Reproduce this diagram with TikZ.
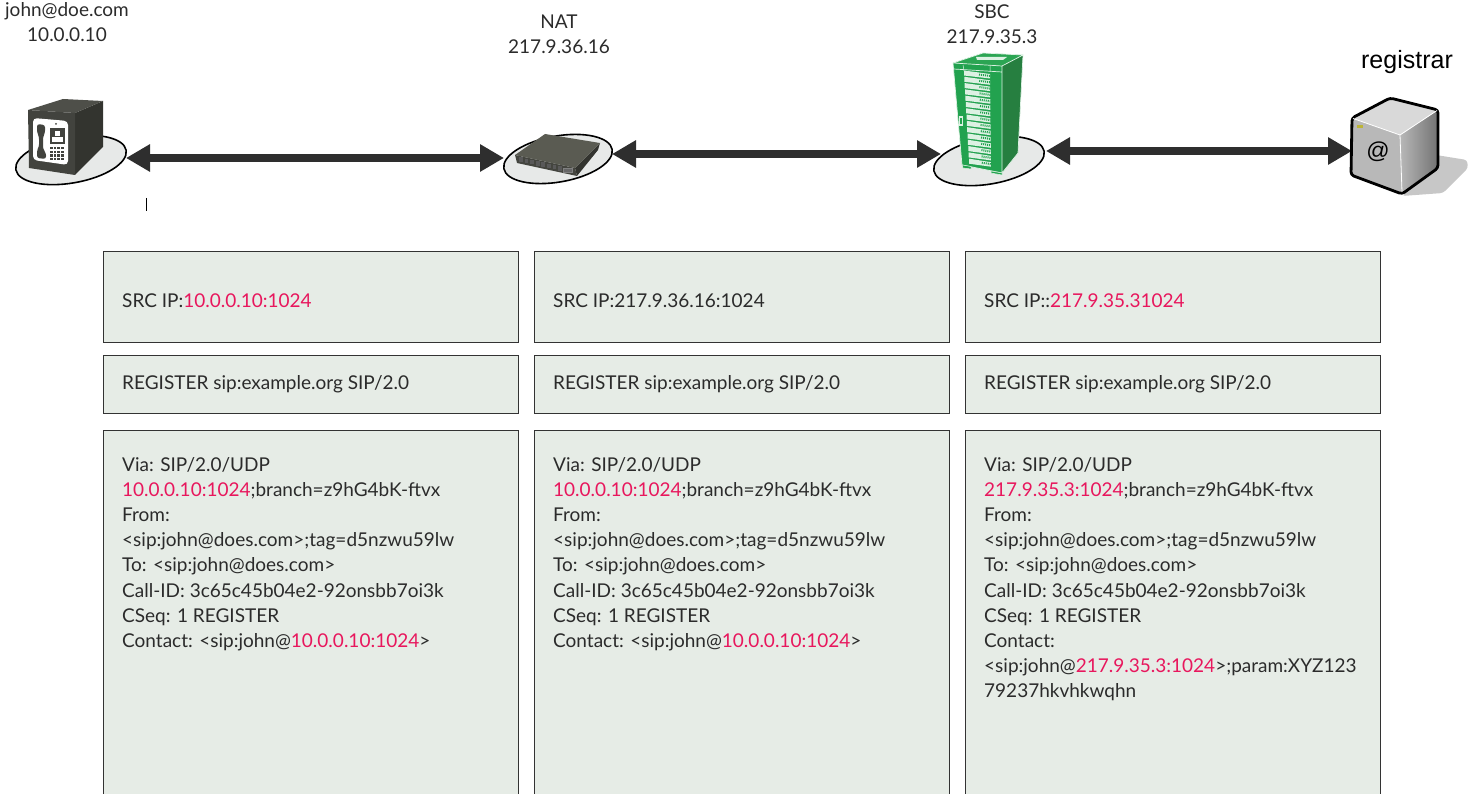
\documentclass[tikz,border=0pt]{standalone}
\usepackage{fontspec}
\setmainfont{Lato}
\newfontfamily\arialf{Liberation Sans}
\usetikzlibrary{arrows.meta,calc,shapes.geometric}
\definecolor{hl}{HTML}{E8175D}
\definecolor{boxfill}{HTML}{E6ECE6}
\definecolor{boxline}{HTML}{333333}
\definecolor{txt}{HTML}{2B2B2B}
\definecolor{arrowc}{HTML}{2E2E2E}
\definecolor{padfill}{HTML}{E7E9E8}
\definecolor{darkf}{HTML}{42433E}
\definecolor{darkt}{HTML}{4E4F49}
\definecolor{darkr}{HTML}{33342F}
\definecolor{natt}{HTML}{5A5B52}
\definecolor{natf}{HTML}{44453F}
\definecolor{gfront}{HTML}{22A24F}
\definecolor{gright}{HTML}{267F40}
\definecolor{gtop}{HTML}{2BA553}
\definecolor{gline}{HTML}{DDF1E3}
\newcommand\hl[1]{\textcolor{hl}{#1}}
\tikzset{
  panel/.style={draw=boxline,line width=0.9pt,fill=boxfill,minimum width=414.5pt,inner sep=0pt,anchor=north west},
  paneltext/.style={anchor=west,inner sep=0pt,text=txt,font=\fontsize{19}{25.2}\selectfont},
  bodytext/.style={anchor=north west,inner sep=0pt,text=txt,align=left,font=\fontsize{19}{25.2}\selectfont},
  headtext/.style={inner sep=0pt,text=txt,align=center,font=\fontsize{19}{25}\selectfont},
  pad/.style={draw=black,line width=1.6pt,fill=padfill,ellipse,inner sep=0pt},
  link/.style={draw=arrowc,line width=7.5pt,{Triangle[width=26pt,length=24pt]}-{Triangle[width=26pt,length=24pt]},arrowc},
}
\begin{document}
\begin{tikzpicture}[x=1pt,y=-1pt]
\useasboundingbox (0,0) rectangle (1468,794);
% pads
\node[pad,minimum width=112pt,minimum height=46pt,rotate=10] (padA) at (71,160) {};
\node[pad,minimum width=110pt,minimum height=46pt,rotate=10] (padB) at (558,159) {};
\node[pad,minimum width=112pt,minimum height=46pt,rotate=10] (padC) at (989,161) {};
\coordinate (regW) at (1352,151);
% links
\coordinate (a1) at (126,158); \coordinate (b1) at (504,158);
\coordinate (a2) at (612,154); \coordinate (b2) at (941,154);
\coordinate (a3) at (1046,151);
\draw[link] (a1) -- (b1);
\draw[link] (a2) -- (b2);
\draw[link] (a3) -- (regW);
% stray tick
\coordinate (tickA) at (146,198); \coordinate (tickB) at (146,211);
\draw[black,line width=0.8pt] (tickA) -- (tickB);
% phone
\fill[darkr] (75,113) -- (103,101) -- (103,147) -- (75,175) -- cycle;
\fill[darkt] (28,110) -- (63,99) -- (103,101) -- (75,113) -- cycle;
\fill[darkf] (28,110) -- (75,113) -- (75,175) -- (29,168) -- cycle;
\fill[white,rounded corners=4pt] (33,118) -- (68,121) -- (68,165) -- (33,160) -- cycle;
\fill[darkf,rounded corners=2.5pt] (37,124) -- (45,125) -- (45,133) -- (43,137) -- (43,149) -- (46,153) -- (46,159) -- (37,158) -- (37,150) -- (39,147) -- (39,137) -- (37,132) -- cycle;
\fill[darkf] (50,128) rectangle (65,144);
\fill[white] (55,131) rectangle (60,136);
\fill[white] (52,137) rectangle (63,142);
\fill[darkf] (56,124) circle (1pt);
\foreach \i in {0,1,2,3}{\foreach \j in {0,1,2,3}{
  \fill[darkf] ({50+\i*3.7},{147+\j*3.6}) rectangle +(2.6,2.4);}}
% nat box
\fill[darkr] (600,143) -- (598,150) -- (577,176) -- (575,168) -- cycle;
\fill[natf] (515,155) -- (575,168) -- (577,176) -- (517,163) -- cycle;
\fill[natt] (545,134) -- (600,143) -- (575,168) -- (515,155) -- cycle;
\foreach \i in {0,...,7}{\fill[black!65] ({519+\i*5.6},{157.5+\i*1.25}) rectangle +(3.8,4.5);}
\fill[black!60,draw=white!50!black,line width=0.4pt] (563,168) rectangle +(9,4);
% SBC
\fill[gright] (1002,66) -- (1023,55) -- (1018,153) -- (1002,173) -- cycle;
\fill[gtop] (953,63) -- (983,53) -- (1023,55) -- (1002,66) -- cycle;
\fill[gfront] (953,63) -- (1002,66) -- (1002,173) -- (962,165) -- cycle;
\draw[gline,line width=0.7pt,line join=round] (953,63) -- (983,53) -- (1023,55) -- (1002,66) -- cycle (953,63) -- (962,165) -- (1002,173) -- (1018,153) -- (1023,55) (1002,66) -- (1002,173) (953.5,69) -- (1002,72);
\draw[gline,line width=0.5pt] (963,65) -- (964,71) (990,66) -- (990,72);
\fill[gline] (976,57) -- (1007,57) -- (1003,60) -- (977,60) -- cycle;
\foreach \i in {0,...,14}{
  \fill[gline] ({964+\i*0.36},{70.5+\i*6.3}) -- ({990+\i*0.07},{74+\i*6.3}) -- ({990+\i*0.07},{78.5+\i*6.3}) -- ({964+\i*0.36},{75.5+\i*6.3}) -- cycle;
  \draw[gfront,line width=2pt,dash pattern=on 1pt off 1pt] ({979+\i*0.2},{74.5+\i*6.3}) -- ({990+\i*0.07},{76+\i*6.3});}
\fill[gline] (959,116) rectangle (963,126);
\fill[gfront] (960,118) rectangle (962,124);
\fill[gfront,draw=gline,line width=0.5pt] (962,165) -- (971,166.5) -- (971,169) -- (963,168) -- cycle;
\fill[gfront,draw=gline,line width=0.5pt] (991,171) -- (1002,173) -- (1002,175) -- (991,173) -- cycle;
% registrar cube
\fill[black!22,rounded corners=3pt] (1436,155) -- (1467,160) -- (1468,168) -- (1443,193) -- (1402,196) -- cycle;
\shade[left color=black!28,right color=black!55] (1400,135) -- (1438,110) -- (1438,168) -- (1402,194) -- cycle;
\fill[black!28] (1352,118) -- (1400,135) -- (1402,194) -- (1351,175) -- cycle;
\fill[black!15] (1390,98) -- (1438,110) -- (1400,135) -- (1352,118) -- cycle;
\draw[black,line width=2.8pt,line join=round,rounded corners=3pt] (1352,118) -- (1390,98) -- (1438,110) -- (1438,168) -- (1402,194) -- (1351,175) -- cycle;
\draw[white,line width=0.8pt] (1353,118.5) -- (1400,135) -- (1437,110.5) (1400,135) -- (1402,192);
\fill[yellow!70!black] (1357,125) rectangle +(6,3);
\node[inner sep=0pt,font=\arialf\fontsize{23}{23}\selectfont,text=black] (at) at (1378,152) {@};
% headers
\node[headtext] (hA) at (67,22) {john@doe.com\\10.0.0.10};
\node[headtext] (hB) at (559,34) {NAT\\217.9.36.16};
\node[headtext] (hC) at (992,24) {SBC\\217.9.35.3};
\node[inner sep=0pt,font=\arialf\fontsize{25}{25}\selectfont,text=black] (hD) at (1407,62) {registrar};
% panels
\foreach \n/\x in {A/103,B/534,C/965}{
  \node[panel,minimum height=91pt] (src\n) at (\x,251) {};
  \node[panel,minimum height=58pt] (req\n) at (\x,355) {};
  \node[panel,minimum height=363.5pt] (body\n) at (\x,430) {};
  \node[paneltext] (reqt\n) at ({\x+19},384) {REGISTER sip:example.org SIP/2.0};
}
\node[paneltext] (srct1) at (122,301) {SRC IP:\hl{10.0.0.10:1024}};
\node[paneltext] (srct2) at (553,301) {SRC IP:217.9.36.16:1024};
\node[paneltext] (srct3) at (984,301) {SRC IP::\hl{217.9.35.31024}};
\node[bodytext] (bt1) at (122,457) {Via: SIP/2.0/UDP\\
\hl{10.0.0.10:1024};branch=z9hG4bK-ftvx\\
From:\\
<sip:john@does.com>;tag=d5nzwu59lw\\
To: <sip:john@does.com>\\
Call-ID: 3c65c45b04e2-92onsbb7oi3k\\
CSeq: 1 REGISTER\\
Contact: <sip:john@\hl{10.0.0.10:1024}>};
\node[bodytext] (bt2) at (553,457) {Via: SIP/2.0/UDP\\
\hl{10.0.0.10:1024};branch=z9hG4bK-ftvx\\
From:\\
<sip:john@does.com>;tag=d5nzwu59lw\\
To: <sip:john@does.com>\\
Call-ID: 3c65c45b04e2-92onsbb7oi3k\\
CSeq: 1 REGISTER\\
Contact: <sip:john@\hl{10.0.0.10:1024}>};
\node[bodytext] (bt3) at (984,457) {Via: SIP/2.0/UDP\\
\hl{217.9.35.3:1024};branch=z9hG4bK-ftvx\\
From:\\
<sip:john@does.com>;tag=d5nzwu59lw\\
To: <sip:john@does.com>\\
Call-ID: 3c65c45b04e2-92onsbb7oi3k\\
CSeq: 1 REGISTER\\
Contact:\\
<sip:john@\hl{217.9.35.3:1024}>;param:XYZ123\\
79237hkvhkwqhn};
\end{tikzpicture}
\end{document}
